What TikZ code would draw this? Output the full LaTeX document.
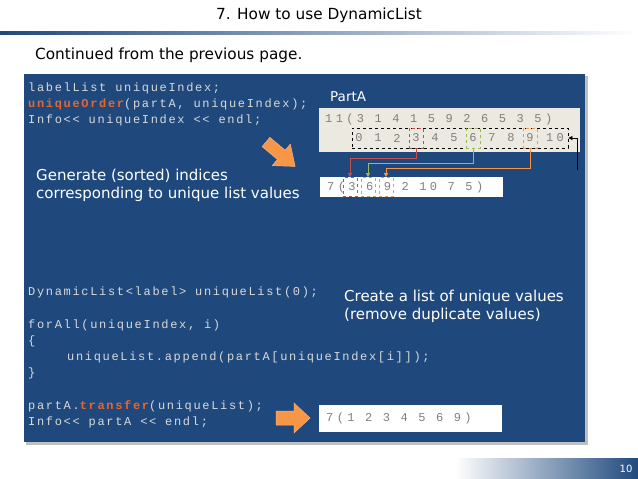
\documentclass[tikz,border=0pt]{standalone}
\usepackage{fontspec}
\setmainfont{DejaVu Sans}
\newfontfamily\codefont[LetterSpace=14]{Liberation Mono}
\newfontfamily\boxfont[LetterSpace=28]{Liberation Mono}
\usetikzlibrary{arrows.meta}
\definecolor{panel}{HTML}{1F497D}
\definecolor{codegray}{HTML}{D9D9D9}
\definecolor{kw}{HTML}{E8652E}
\definecolor{arr}{HTML}{F79646}
\definecolor{beige}{HTML}{ECE9E1}
\definecolor{boxtxt}{HTML}{7F7F7F}
\definecolor{dred}{HTML}{C0504D}
\definecolor{dgreen}{HTML}{9BBB59}
\definecolor{dorange}{HTML}{F79646}
\tikzset{
 code/.style={anchor=west,inner sep=0,text=codegray,font=\codefont\fontsize{12}{14}\selectfont},
 boxcode/.style={anchor=west,inner sep=0,text=boxtxt,font=\boxfont\fontsize{12}{14}\selectfont},
 digit/.style={inner sep=0,text=boxtxt,font=\boxfont\fontsize{12}{14}\selectfont},
 wtext/.style={anchor=west,inner sep=0,text=white,font=\fontsize{15}{18}\selectfont,align=left},
 dbox/.style={draw=#1,dashed,line width=0.8pt},
 conn/.style={draw=#1,line width=0.8pt,-{Triangle[length=4pt,width=4pt]}},
 blockarrow/.style={fill=arr,draw=arr!70!white,line width=0.5pt}
}
\begin{document}
\begin{tikzpicture}[x=1pt,y=-1pt]
\useasboundingbox (0,0) rectangle (638,479);
\fill[white] (0,0) rectangle (638,479);
\node[inner sep=0,font=\fontsize{15.3}{18}\selectfont] (title) at (319,15) {7. How to use DynamicList};
\shade[left color=panel,right color=white] (0,31.5) rectangle (638,34.5);
\node[inner sep=0,anchor=west,font=\fontsize{15.3}{18}\selectfont] (cont) at (35,55) {Continued from the previous page.};
% panel
\fill[black!25] (26,76) rectangle (588,445);
\fill[panel] (24,74) rectangle (585,442);
% code
\node[code] (c1) at (28,88) {labelList uniqueIndex;};
\node[code] (c2) at (28,104) {\textcolor{kw}{\bfseries uniqueOrder}(partA, uniqueIndex);};
\node[code] (c3) at (28,120) {Info<< uniqueIndex << endl;};
\node[code] (c4) at (28,292) {DynamicList<label> uniqueList(0);};
\node[code] (c5) at (28,325) {forAll(uniqueIndex, i)};
\node[code] (c6) at (28,341) {\{};
\node[code] (c7) at (67,357) {uniqueList.append(partA[uniqueIndex[i]]);};
\node[code] (c8) at (28,373) {\}};
\node[code] (c9) at (28,406) {partA.\textcolor{kw}{\bfseries transfer}(uniqueList);};
\node[code] (c10) at (28,422) {Info<< partA << endl;};
% PartA
\node[wtext,font=\fontsize{13.5}{16}\selectfont] (lblA) at (330,97) {PartA};
\fill[beige] (319,108) rectangle (580,152);
\node[boxcode] (rowA) at (325,119) {11(3 1 4 1 5 9 2 6 5 3 5)};
\foreach \d [count=\k from 0] in {0,...,9} {
  \node[digit] (d\d) at ({359+19*\k},138) {\d};
}
\node[digit] (d10) at (555,138) {10};
\node[dbox=black,minimum width=216,minimum height=20,inner sep=0] (ibox) at (460,138) {};
\node[dbox=dred,minimum width=14,minimum height=20,inner sep=0] (i3) at (416,138) {};
\node[dbox=dgreen,minimum width=14,minimum height=20,inner sep=0] (i6) at (473,138) {};
\node[dbox=dorange,minimum width=14,minimum height=20,inner sep=0] (i9) at (530,138) {};
% result
\fill[white] (320,177) rectangle (503,197);
\node[boxcode] (res) at (327,187) {7(3 6 9 2 10 7 5)};
\node[dbox=dred,minimum width=14,minimum height=19,inner sep=0] (r3) at (350,187) {};
\node[dbox=dgreen,minimum width=14,minimum height=19,inner sep=0] (r6) at (368,187) {};
\node[dbox=dorange,minimum width=14,minimum height=19,inner sep=0] (r9) at (386,187) {};
\draw[conn=dred] (i3.south) |- (350,158) -- (r3.north);
\draw[conn=dgreen] (i6.south) |- (368,163) -- (r6.north);
\draw[conn=dorange] (i9.south) |- (386,168) -- (r9.north);
% Index
\node[wtext,font=\fontsize{13}{16}\selectfont] (idx) at (588,181) {Index};
\coordinate (ic) at (577,170);
\draw[black,line width=0.8pt,-{Triangle[length=4pt,width=4pt]}] (ic) |- (ibox.east);
% arrows
\begin{scope}[shift={(266,142)},rotate=-40]
\draw[blockarrow] (0,-6) -- (20,-6) -- (20,-14) -- (38,0) -- (20,14) -- (20,6) -- (0,6) -- cycle;
\end{scope}
\node[wtext] (gen) at (36,185) {Generate (sorted) indices\\corresponding to unique list values};
\node[wtext] (crt) at (344,306) {Create a list of unique values\\(remove duplicate values)};
\begin{scope}[shift={(276,418)}]
\draw[blockarrow] (0,-7) -- (18,-7) -- (18,-15) -- (34,0) -- (18,15) -- (18,7) -- (0,7) -- cycle;
\end{scope}
\fill[white] (319,405) rectangle (502,432);
\node[boxcode] (fin) at (326,418) {7(1 2 3 4 5 6 9)};
% footer
\shade[left color=white,right color=panel] (455,458) rectangle (638,479);
\node[inner sep=0,text=white,font=\fontsize{10}{12}\selectfont] (pg) at (626,469) {10};
\end{tikzpicture}
\end{document}
